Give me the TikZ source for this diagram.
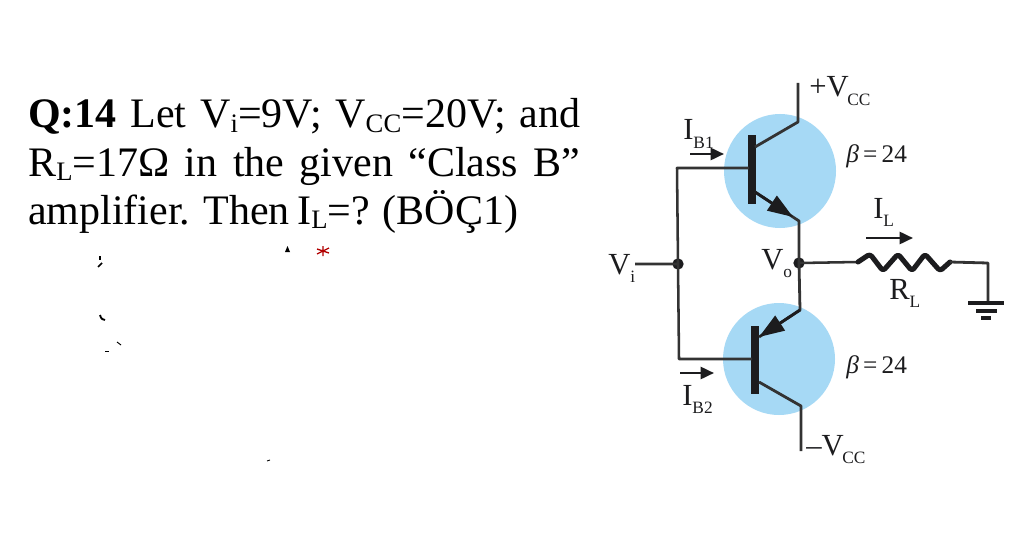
\documentclass[tikz,border=0pt]{standalone}
\usepackage{fontspec}
\setmainfont{Liberation Serif}
\usetikzlibrary{arrows.meta}
\definecolor{ink}{HTML}{1C1C1E}
\definecolor{wire}{HTML}{333333}
\definecolor{lobe}{HTML}{A6D9F5}
\tikzset{
  x=0.75pt,y=-0.75pt,
  wireline/.style={draw=wire,line width=2.1pt,line join=round},
  thinwire/.style={draw=wire,line width=1.9pt,line join=round},
  barbox/.style={fill=ink,draw=none},
  lobeshape/.style={fill=lobe,draw=none},
  junction/.style={circle,fill=ink,draw=none,minimum size=8.5pt,inner sep=0pt},
  currentarrow/.style={draw=ink,line width=1.9pt,-{Triangle[length=10pt,width=9pt]}},
  emitarrow/.style={draw=ink,line width=2.1pt,-{Triangle[length=19pt,width=13pt]}},
  lbl/.style={inner sep=0pt,anchor=base west,text=ink,font=\fontsize{23}{26}\selectfont},
  betalbl/.style={inner sep=0pt,anchor=base west,text=ink,font=\fontsize{19}{22}\selectfont},
  body/.style={inner sep=0pt,anchor=base west,text=black,font=\fontsize{31.5}{36}\selectfont},
}
\newcommand{\lsub}[1]{\raisebox{-6.5pt}{\fontsize{13}{14}\selectfont #1}}
\newcommand{\tsub}[1]{\raisebox{-3.5pt}{\fontsize{20}{22}\selectfont #1}}
\begin{document}
\begin{tikzpicture}
\useasboundingbox (0,0) rectangle (1020,556);
\fill[white] (0,0) rectangle (1020,556);
% question text
\node[body] (l1) at (28,128) {\makebox[414pt][s]{\textbf{Q:14} Let V\tsub{i}=9V; V\tsub{CC}=20V; and}};
\node[body] (l2) at (28,176) {\makebox[414pt][s]{R\tsub{L}=17Ω in the given “Class B”}};
\node[body] (l3) at (28,224) {\makebox[367.5pt][s]{amplifier. Then I\tsub{L}=? (BÖÇ1)}};
% shaded lobes
\fill[lobeshape] (780,171) ellipse [x radius=56,y radius=57];
\fill[lobeshape] (779,359) ellipse [x radius=56,y radius=56];
% coordinates
\coordinate (vcctop) at (798,83);
\coordinate (c1bend) at (798,122);
\coordinate (c1bar) at (755,147);
\coordinate (e1bar) at (755,192);
\coordinate (e1bend) at (799,221);
\coordinate (b1) at (749,168);
\coordinate (b1corner) at (677,168);
\coordinate (vistart) at (635,264);
\coordinate (b2corner) at (679,359);
\coordinate (b2) at (752,359);
\coordinate (e2bend) at (800,310);
\coordinate (e2bar) at (759,337);
\coordinate (c2bar) at (759,382);
\coordinate (c2bend) at (801,406);
\coordinate (veebot) at (801,451);
\coordinate (rl) at (858,262);
\coordinate (rr) at (950,262);
\coordinate (gcorner) at (988,263);
\coordinate (gtop) at (988,303);
% junctions
\node[junction] (vi) at (678,264) {};
\node[junction] (vo) at (799,263) {};
% bars
\fill[barbox] (748,135) rectangle (756,204);
\fill[barbox] (751,326) rectangle (759,394);
% wires
\draw[wireline] (vcctop) -- (c1bend) -- (c1bar);
\draw[wireline] (e1bar) -- (e1bend) -- (vo.center);
\draw[emitarrow] (e1bar) -- (793,217);
\draw[thinwire] (b1) -- (b1corner) -- (vi.center);
\draw[thinwire] (vistart) -- (vi.center) -- (b2corner) -- (b2);
\draw[wireline] (vo.center) -- (e2bend) -- (e2bar);
\draw[emitarrow] (e2bend) -- (e2bar);
\draw[wireline] (c2bar) -- (c2bend) -- (veebot);
\draw[thinwire] (vo.center) -- (rl);
\draw[draw=ink,line width=3.8pt,line join=round,line cap=round,rounded corners=2.2pt]
  (rl) -- (870,254) -- (883,271) -- (898,254) -- (912,271) -- (925,254) -- (940,271) -- (rr);
\draw[wireline] (rr) -- (gcorner) -- (gtop);
% ground
\draw[draw=ink,line width=3.2pt] (968,303) -- (gtop) -- (1004,303);
\draw[draw=ink,line width=3pt] (976,311) -- (997,311);
\draw[draw=ink,line width=3pt] (981,318) -- (991,318);
% current arrows
\coordinate (ib1a) at (690,154); \coordinate (ib1b) at (724,154);
\coordinate (ib2a) at (680,373); \coordinate (ib2b) at (714,373);
\coordinate (ila) at (866,238); \coordinate (ilb) at (913,238);
\draw[currentarrow] (ib1a) -- (ib1b);
\draw[currentarrow] (ib2a) -- (ib2b);
\draw[currentarrow] (ila) -- (ilb);
% labels
\node[lbl] (tvcc) at (809,97) {+V\kern-1pt\lsub{CC}};
\node[lbl] (tib1) at (683,140) {I\lsub{B1}};
\node[betalbl] (tb1) at (846,162) {\textit{β}\,=\,24};
\node[lbl] (til) at (873,218) {I\lsub{L}};
\node[lbl] (tvi) at (608,274) {V\lsub{i}};
\node[lbl] (tvo) at (761,269) {V\lsub{o}};
\node[lbl] (trl) at (889,299) {R\lsub{L}};
\node[betalbl] (tb2) at (846,373) {\textit{β}\,=\,24};
\node[lbl] (tib2) at (682,405) {I\lsub{B2}};
\node[lbl] (tvee) at (806,455) {–V\kern-1pt\lsub{CC}};
% scan specks
\fill[black] (285,252) -- (287.5,246) -- (290,252) -- cycle;
\draw[draw=red!70!black,line width=1pt] (323,246) -- (323,256) (317,249) -- (329,253) (329,248) -- (317,254);
\fill[black] (99,256) rectangle (101,260);
\draw[black,line width=1.2pt] (98,267) -- (102,263);
\draw[black,line width=1.4pt] (100,315) .. controls (101,319) and (103,320) .. (105,320);
\draw[black,line width=.7pt] (117,342) -- (121,345);
\draw[black,line width=.7pt] (105,351) -- (109,351);
\draw[black,line width=.7pt] (267,461) -- (270,460);
\end{tikzpicture}
\end{document}
